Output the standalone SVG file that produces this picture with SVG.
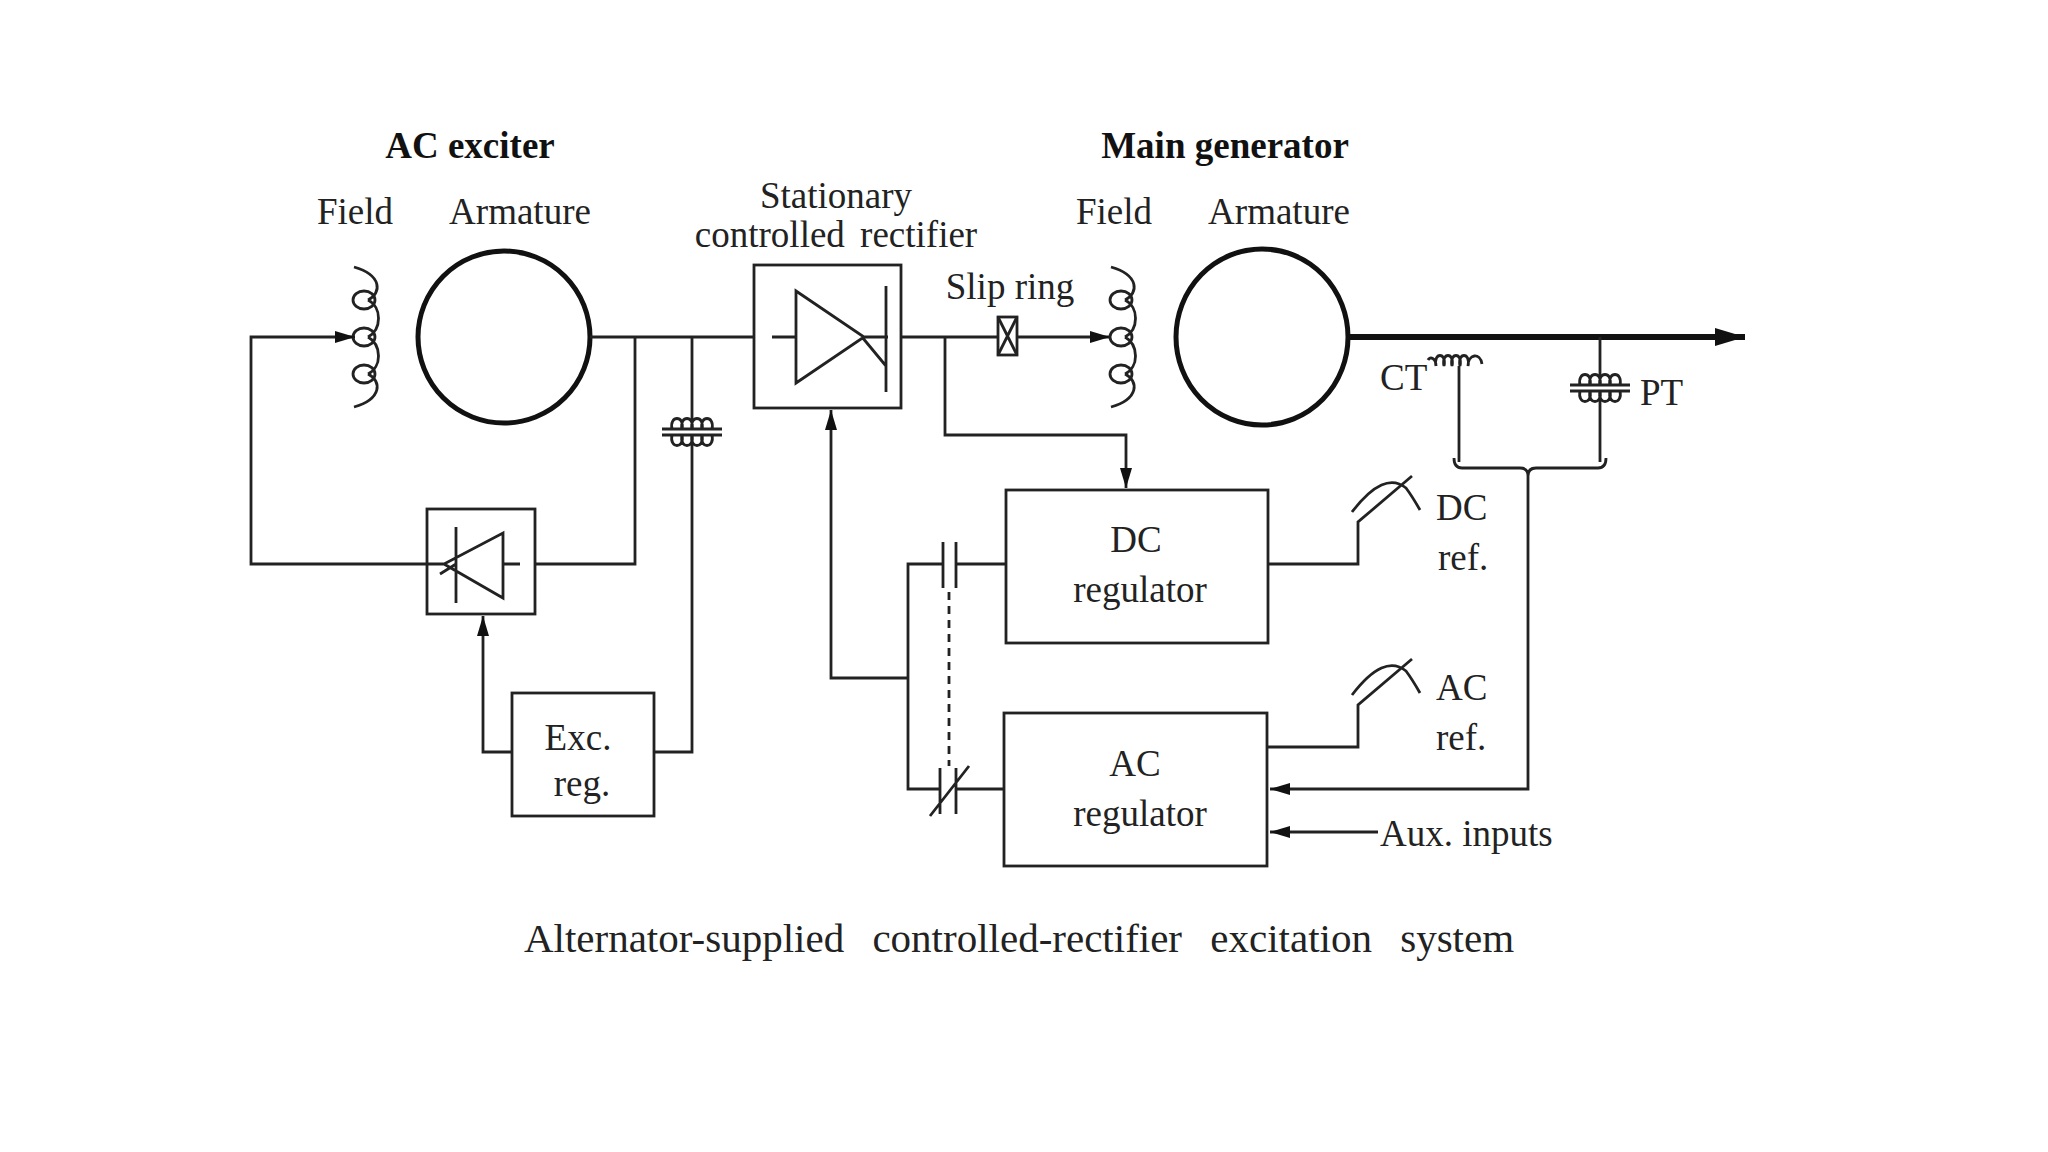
<svg xmlns="http://www.w3.org/2000/svg" width="2048" height="1152" viewBox="0 0 2048 1152">
<style>
.l{fill:none;stroke:#222;stroke-width:2.8}
.b{fill:none;stroke:#111;stroke-width:5}
.t{font-family:"Liberation Serif",serif;font-size:37px;fill:#222}
.h{font-family:"Liberation Serif",serif;font-size:37px;font-weight:bold;fill:#111}
.m{text-anchor:middle}
</style>
<defs>
<marker id="a" markerWidth="20" markerHeight="12" refX="20" refY="6" orient="auto" markerUnits="userSpaceOnUse" viewBox="0 0 20 12"><path d="M0,0L20,6L0,12z" fill="#111"/></marker>
<marker id="A" markerWidth="30" markerHeight="18" refX="30" refY="9" orient="auto" markerUnits="userSpaceOnUse"><path d="M0,0L30,9L0,18z" fill="#111"/></marker>
<g id="coil"><path class="l" d="M-14,-70 C14,-62 14,-44 0,-37 M0,-37 C14,-30 14,-8 0,-0 M0,0 C14,8 14,30 0,37 M0,37 C14,44 14,62 -14,70"/><ellipse cx="-4" cy="-37" rx="11" ry="9" class="l"/><ellipse cx="-4" cy="0" rx="11" ry="9" class="l"/><ellipse cx="-4" cy="37" rx="11" ry="9" class="l"/></g>
<g id="xf"><path class="l" d="M-30,-3 H30 M-30,3 H30 M-20,-3 c-3,-14 13,-14 10,0 c-3,-14 13,-14 10,0 c-3,-14 13,-14 10,0 c-3,-14 13,-14 10,0 M-20,3 c-3,14 13,14 10,0 c-3,14 13,14 10,0 c-3,14 13,14 10,0 c-3,14 13,14 10,0"/></g>
</defs>
<rect width="2048" height="1152" fill="#fff"/>
<g id="labels">
<text class="h m" x="470" y="158">AC exciter</text>
<text class="t m" x="355" y="224">Field</text>
<text class="t m" x="520" y="224">Armature</text>
<text class="t m" x="836" y="208">Stationary</text>
<text class="t m" x="836" y="247" style="word-spacing:6px">controlled rectifier</text>
<text class="t m" x="1010" y="299">Slip ring</text>
<text class="h m" x="1225" y="158">Main generator</text>
<text class="t m" x="1114" y="224">Field</text>
<text class="t m" x="1279" y="224">Armature</text>
<text class="t" x="1380" y="390">CT</text>
<text class="t" x="1640" y="405">PT</text>
<text class="t" x="1436" y="520">DC</text>
<text class="t" x="1438" y="570">ref.</text>
<text class="t" x="1436" y="700">AC</text>
<text class="t" x="1436" y="750">ref.</text>
<text class="t" x="1380" y="846">Aux. inputs</text>
<text class="t m" x="1019" y="952" style="font-size:41px;word-spacing:18px">Alternator-supplied controlled-rectifier excitation system</text>
</g>
<g id="exciter-field"><use href="#coil" transform="translate(368,337)"/></g>
<g id="exciter-armature"><circle cx="504" cy="337" r="86" class="b"/></g>
<g id="stationary-rectifier"><rect x="754" y="265" width="147" height="143" class="l"/>
<path class="l" d="M772,337H796M796,291V383L864,337ZM864,337H888M886,286V392M862,337L886,366"/></g>
<g id="slip-ring"><rect x="998" y="317" width="19" height="38" class="l"/><path class="l" d="M998,317L1017,355M1017,317L998,355"/></g>
<g id="main-field"><use href="#coil" transform="translate(1125,337)"/></g>
<g id="main-armature"><ellipse cx="1262" cy="337" rx="86" ry="88" class="b"/></g>
<g id="exciter-rectifier"><rect x="427" y="509" width="108" height="105" class="l"/>
<path class="l" d="M427,564H444M503,564H520M503,533V598L444,564ZM456,527V603M440,574L456,564"/></g>
<g id="exc-reg"><rect x="512" y="693" width="142" height="123" class="l"/><text class="t m" x="578" y="750">Exc.</text><text class="t m" x="582" y="796">reg.</text></g>
<g id="dc-regulator"><rect x="1006" y="490" width="262" height="153" class="l"/><text class="t m" x="1136" y="552">DC</text><text class="t m" x="1140" y="602">regulator</text></g>
<g id="ac-regulator"><rect x="1004" y="713" width="263" height="153" class="l"/><text class="t m" x="1135" y="776">AC</text><text class="t m" x="1140" y="826">regulator</text></g>
<g id="ct"><path class="l" d="M1436,366c-3,-14 11,-14 8,0c-3,-14 11,-14 8,0c-3,-14 11,-14 8,0c-3,-14 11,-14 8,0c0,-12 12,-14 14,-2 M1436,366c0,-8 -6,-10 -8,-6"/></g>
<g id="pt-xf"><use href="#xf" transform="translate(1600,388)"/></g>
<g id="exc-xf"><use href="#xf" transform="translate(692,432)"/></g>
<g id="connectors">
<path class="l" d="M590,337H754"/>
<path class="l" d="M635,337V564H535"/>
<path class="l" d="M692,337V420M692,445V752H654"/>
<path class="l" d="M427,564H251V337H355" marker-end="url(#a)"/>
<path class="l" d="M512,752H483V616" marker-end="url(#a)"/>
<path class="l" d="M901,337H998M1017,337H1110" marker-end="url(#a)"/>
<path class="l" d="M945,337V435H1126V488" marker-end="url(#a)"/>
<path d="M1346,337H1745" stroke="#111" stroke-width="6" fill="none" marker-end="url(#A)"/>
<path class="l" d="M1459,366V462M1600,337V378M1600,398V462"/>
<path class="l" d="M1454,458q0,10 8,10H1520q8,0 8,8q0,-8 8,-8H1598q8,0 8,-10"/>
<path class="l" d="M1528,476V789H1270" marker-end="url(#a)"/>
<path class="l" d="M1378,832H1270" marker-end="url(#a)"/>
<path class="l" d="M1268,564H1358V522L1412,476M1352,512Q1384,470 1406,488Q1412,496 1420,510"/>
<path class="l" d="M1267,747H1358V705L1412,659M1352,695Q1384,653 1406,671Q1412,679 1420,693"/>
<path class="l" d="M1006,564H956M943,564H908V789H940M956,789H1004"/>
<path class="l" d="M943,542V588M956,542V588M940,768V814M956,768V814M930,816L969,766"/>
<path class="l" stroke-dasharray="8,6" d="M949,592V766"/>
<path class="l" d="M908,678H831V410" marker-end="url(#a)"/>
</g>
</svg>
